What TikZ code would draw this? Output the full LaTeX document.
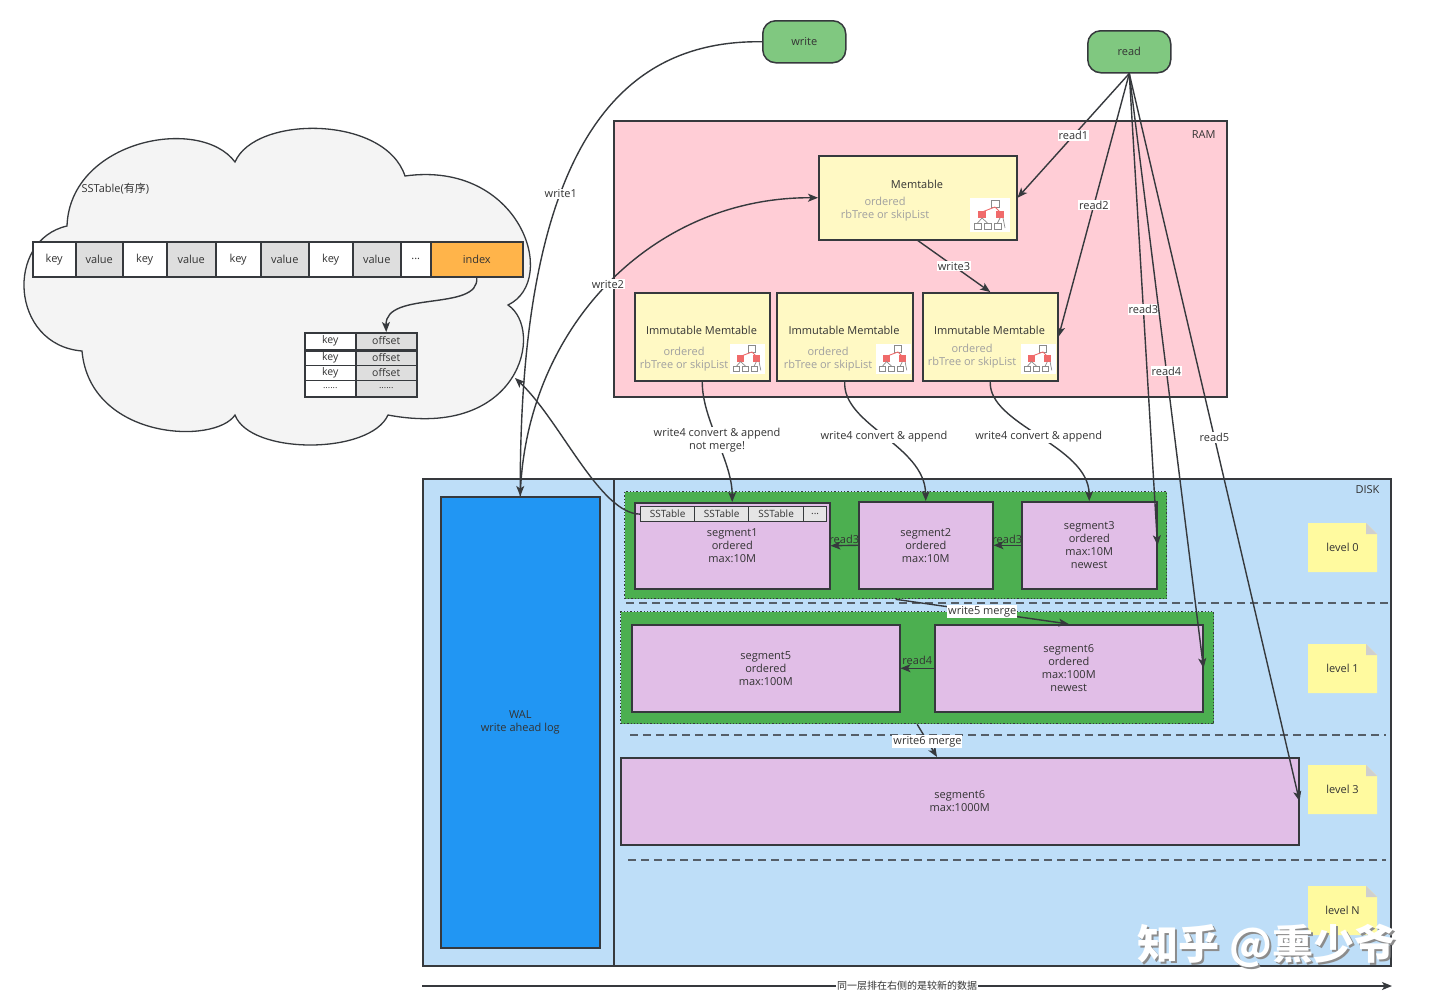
\documentclass[tikz,border=0pt]{standalone}
\usepackage{fontspec}
\setmainfont{Open Sans}
\newfontfamily\cjk{Noto Sans CJK SC}
\usetikzlibrary{arrows.meta}
\definecolor{txt}{HTML}{333333}
\definecolor{bord}{HTML}{36393D}
\definecolor{ramc}{HTML}{FFCDD6}
\definecolor{memc}{HTML}{FFF9C4}
\definecolor{lav}{HTML}{E1BEE7}
\definecolor{grn}{HTML}{4CAF50}
\definecolor{diskc}{HTML}{BEDEF8}
\definecolor{walc}{HTML}{2196F3}
\definecolor{nodeg}{HTML}{80C880}
\definecolor{notey}{HTML}{FFFA9F}
\definecolor{notef}{HTML}{CFCFCF}
\definecolor{cellgc}{HTML}{DEDEDE}
\definecolor{orng}{HTML}{FFB44A}
\definecolor{graytxt}{HTML}{A0A0A0}
\definecolor{sepc}{HTML}{555E68}
\definecolor{cloudc}{HTML}{F4F4F4}
\definecolor{icong}{HTML}{8A8A8A}
\definecolor{iconr}{HTML}{F06A6A}
\newcommand\mybox[7]{\node[#1, anchor=north west, inner sep=0pt, minimum width={(#5-#3)*1pt}, minimum height={(#6-#4)*1pt}] (#2) at (#3,#4) {#7};}
\newcommand\treeicon[3]{%
\begin{scope}[shift={(#1,#2)},scale=#3]
\fill[white] (0,0) rectangle (40,34);
\draw[icong, line width=0.8pt] (21,2) rectangle (29,9);
\draw[iconr, line width=0.9pt] (25,9) -- (12,14) (25,9) -- (30,14);
\fill[iconr] (8,13) rectangle (16,20);
\fill[iconr] (26,13) rectangle (34,20);
\draw[icong, line width=0.7pt] (12,20) -- (7.5,25) (12,20) -- (17.5,25) (30,20) -- (27.5,25) (33,20) -- (35,30);
\draw[icong, line width=0.8pt] (4,25) rectangle (11,31) (14,25) rectangle (21,31) (24,25) rectangle (31,31);
\end{scope}}
\tikzset{
 bx/.style={draw=bord, line width=1.5pt},
 arr/.style={draw=bord, line width=1.4pt, -{Stealth[length=10pt,width=8pt,inset=2.5pt]}},
 lbl/.style={fill=white, inner sep=1pt},
 gtxt/.style={text=graytxt, align=center, font=\fontsize{11}{13.5}\selectfont},
 grp/.style={fill=grn, draw=bord, line width=1.3pt, dotted},
 seg/.style={bx, fill=lav, align=center},
 cellw/.style={bx, fill=white},
 cellg/.style={bx, fill=cellgc},
 sstc/.style={draw=bord, line width=1.2pt, fill=cellgc!80!white, font=\fontsize{10}{12}\selectfont},
 sepl/.style={draw=sepc, line width=2.4pt, dash pattern=on 8pt off 5pt},
 rnode/.style={bx, fill=nodeg, rounded corners=13pt},
 memst/.style={bx, fill=memc},
}
\begin{document}
\begin{tikzpicture}[x=1pt,y=-1pt, every node/.style={font=\fontsize{11}{13}\selectfont, text=txt}]
\useasboundingbox (0,0) rectangle (1440,1007);
\fill[white] (0,0) rectangle (1440,1007);

% ---------- cloud ----------
\draw[fill=cloudc, draw=bord, line width=1.3pt] (67,226) .. controls (70,140) and (200,115) .. (235,162)
 .. controls (255,115) and (385,115) .. (405,176)
 .. controls (520,160) and (560,280) .. (508,305)
 .. controls (545,330) and (520,440) .. (388,415)
 .. controls (370,455) and (250,455) .. (235,415)
 .. controls (215,445) and (90,440) .. (82,351)
 .. controls (10,345) and (5,240) .. (67,226) -- cycle;
\node[anchor=west] (sstlbl) at (78,189) {SSTable({\cjk 有序})};
\mybox{cellw}{k1}{32}{241}{75}{276}{key}
\mybox{cellg}{v1}{75}{241}{122}{276}{value}
\mybox{cellw}{k2}{122}{241}{166}{276}{key}
\mybox{cellg}{v2}{166}{241}{215}{276}{value}
\mybox{cellw}{k3}{215}{241}{260}{276}{key}
\mybox{cellg}{v3}{260}{241}{308}{276}{value}
\mybox{cellw}{k4}{308}{241}{352}{276}{key}
\mybox{cellg}{v4}{352}{241}{400}{276}{value}
\mybox{cellw}{dots}{400}{241}{430}{276}{...}
\mybox{bx,fill=orng}{idx}{430}{241}{522}{276}{index}
% index table
\mybox{cellw,font=\fontsize{10.5}{12}\selectfont}{t1k}{304}{332}{355}{348.5}{key}
\mybox{cellg,font=\fontsize{10.5}{12}\selectfont}{t1o}{355}{332}{416}{348.5}{offset}
\mybox{cellw,font=\fontsize{10.5}{12}\selectfont}{t2k}{304}{350}{355}{364.5}{key}
\mybox{cellg,font=\fontsize{10.5}{12}\selectfont}{t2o}{355}{350}{416}{364.5}{offset}
\mybox{cellw,font=\fontsize{10.5}{12}\selectfont}{t3k}{304}{364.5}{355}{379.5}{key}
\mybox{cellg,font=\fontsize{10.5}{12}\selectfont}{t3o}{355}{364.5}{416}{379.5}{offset}
\mybox{cellw,font=\fontsize{9}{10}\selectfont}{t4k}{304}{379.5}{355}{396}{......}
\mybox{cellg,font=\fontsize{9}{10}\selectfont}{t4o}{355}{379.5}{416}{396}{......}
\draw[arr] (idx.south) .. controls (480,312) and (385,290) .. (t1o.north);

% ---------- top nodes ----------
\mybox{rnode}{write}{762}{20}{845}{62}{write}
\mybox{rnode}{read}{1087}{30}{1170}{72}{read}

% ---------- RAM ----------
\mybox{bx,fill=ramc}{ram}{613}{120}{1226}{396}{}
\node[anchor=north east] (ramlbl) at (1219,127) {RAM};
\mybox{memst}{mem}{818}{155}{1016}{239}{}
\node (memt) at (917,184) {Memtable};
\node[gtxt] (memo) at (885,209) {ordered\\rbTree or skipList};
\treeicon{970}{198}{1}
\mybox{memst}{imm1}{634}{292}{769}{380}{}
\mybox{memst}{imm2}{776}{292}{912}{380}{}
\mybox{memst}{imm3}{922}{292}{1057}{380}{}
\node (imm1t) at (701.5,330) {Immutable Memtable};
\node (imm2t) at (844,330) {Immutable Memtable};
\node (imm3t) at (989.5,330) {Immutable Memtable};
\node[gtxt] (imm1o) at (684,359) {ordered\\rbTree or skipList};
\node[gtxt] (imm2o) at (828,359) {ordered\\rbTree or skipList};
\node[gtxt] (imm3o) at (972,356) {ordered\\rbTree or skipList};
\treeicon{730}{344}{0.88}
\treeicon{876}{344}{0.88}
\treeicon{1021}{344}{0.88}

% ---------- DISK ----------
\mybox{bx,fill=diskc}{disk}{422}{478}{1390}{965}{}
\draw[draw=bord, line width=1.2pt] (614,478) -- (614,965);
\node[anchor=north east] (disklbl) at (1383,482) {DISK};
\mybox{bx,fill=walc,align=center}{wal}{440}{496}{599}{947}{WAL\\write ahead log}

\mybox{grp}{g0}{624}{491}{1166}{598}{}
\mybox{seg}{seg1}{634}{502}{829}{588}{segment1\\ordered\\max:10M}
\mybox{sstc}{sst1}{640}{506}{694}{521}{SSTable}
\mybox{sstc}{sst2}{694}{506}{748}{521}{SSTable}
\mybox{sstc}{sst3}{748}{506}{803}{521}{SSTable}
\mybox{sstc}{sst4}{803}{506}{826}{521}{...}
\mybox{seg}{seg2}{858}{501}{992}{588}{segment2\\ordered\\max:10M}
\mybox{seg}{seg3}{1021}{501}{1156}{588}{segment3\\ordered\\max:10M\\newest}

\mybox{grp}{g1}{620}{611}{1213}{723}{}
\mybox{seg}{seg5}{631}{624}{899}{711}{segment5\\ordered\\max:100M}
\mybox{seg}{seg6}{934}{624}{1202}{711}{segment6\\ordered\\max:100M\\newest}

\mybox{seg}{big}{620}{757}{1298}{844}{segment6\\max:1000M}

% level notes
\foreach \yy/\tt/\nn in {523/level 0/n0, 644/level 1/n1, 765/level 3/n3, 886/level N/n4}{
 \fill[notey] (1308,\yy) -- (1366,\yy) -- (1377,\yy+11) -- (1377,\yy+49) -- (1308,\yy+49) -- cycle;
 \fill[notef] (1366,\yy) -- (1366,\yy+11) -- (1377,\yy+11) -- cycle;
 \node (\nn) at (1342.5,\yy+24.5) {\tt};
}
% separators
\draw[sepl] (626,603) -- (1388,603);
\draw[sepl] (630,735) -- (1386,735);
\draw[sepl] (628,860) -- (1386,860);

% ---------- connectors ----------
\draw[arr] (write.west) .. controls (630,40) and (520,130) .. node[lbl, pos=0.63]{write1} (wal.north);
\draw[arr] (wal.north) .. controls (525,330) and (650,197) .. node[lbl, pos=0.5]{write2} (mem.west);
\draw[arr] (mem.south) -- node[lbl]{write3} (imm3.north);
\draw[arr] (imm1.south) .. controls (702,420) and (732,460) .. node[lbl, align=center]{write4 convert \& append\\not merge!} (seg1.north);
\draw[arr] (imm2.south) .. controls (842,425) and (925,445) .. node[lbl]{write4 convert \& append} (seg2.north);
\draw[arr] (imm3.south) .. controls (988,425) and (1088.5,445) .. node[lbl]{write4 convert \& append} (seg3.north);
\coordinate (cloudpt) at (515,378);
\draw[arr] (sst1.west) .. controls (600,514) and (560,420) .. (cloudpt);
\draw[arr] (seg2.west) -- node[above=1pt, inner sep=0pt]{read3} (seg1.east);
\draw[arr] (seg3.west) -- node[above=1pt, inner sep=0pt]{read3} (seg2.east);
\draw[arr] (seg6.west) -- node[above=3pt, inner sep=0pt]{read4} (seg5.east);
\draw[arr] (g0.south) -- node[lbl]{write5 merge} (seg6.north);
\coordinate (w6end) at (937,757);
\draw[arr] (g1.south) -- node[lbl, pos=0.52]{write6 merge} (w6end);
\draw[arr] (read.south) -- node[lbl]{read1} (mem.east);
\draw[arr] (read.south) -- node[lbl]{read2} (imm3.east);
\draw[arr] (read.south) -- node[lbl]{read3} (seg3.east);
\draw[arr] (read.south) -- node[lbl]{read4} (seg6.east);
\draw[arr] (read.south) -- node[lbl]{read5} (big.east);

% bottom axis
\coordinate (bl) at (422,986);
\coordinate (br) at (1392,986);
\draw[arr] (bl) -- node[fill=white, inner sep=1pt, font=\cjk\fontsize{10}{11}\selectfont]{同一层排在右侧的是较新的数据} (br);

% watermark
\node[font=\cjk\bfseries\fontsize{41}{43}\selectfont, text=black!45] (wms) at (1268.5,947.5) {知乎 @熏少爷};
\node[font=\cjk\bfseries\fontsize{41}{43}\selectfont, text=white] (wm) at (1266.5,945.5) {知乎 @熏少爷};
\end{tikzpicture}
\end{document}
